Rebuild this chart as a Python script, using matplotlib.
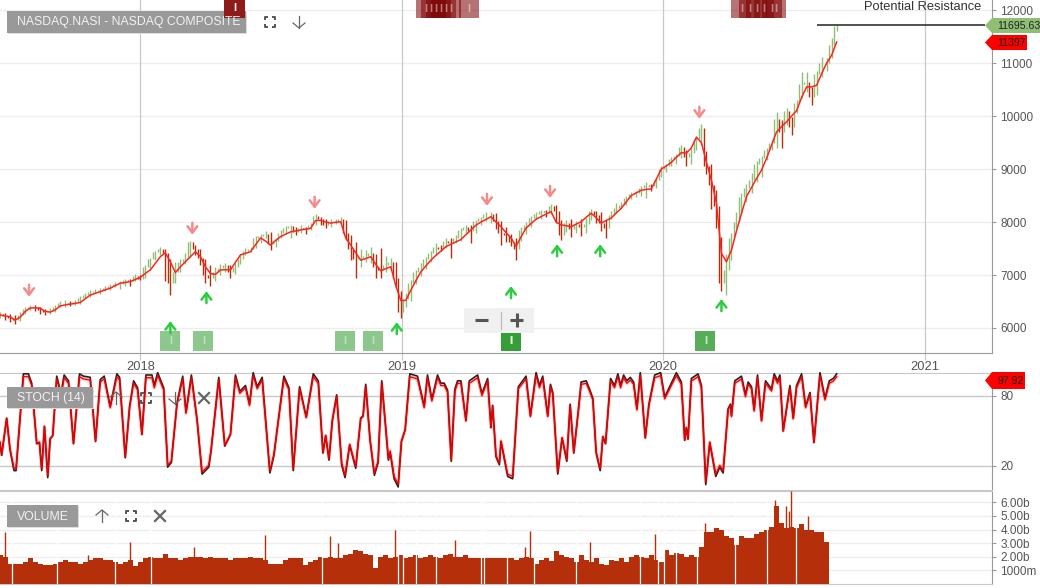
"""NASDAQ composite chart with stochastic and volume panels."""
import matplotlib
matplotlib.use("Agg")
import matplotlib.dates as mdates
import matplotlib.pyplot as plt
import numpy as np
import pandas as pd
from matplotlib.patches import Polygon, Rectangle
from matplotlib.transforms import blended_transform_factory

_W, _H = 1040, 588
_DPI = 100
_AXIS_RIGHT = 992
_UP = "#8fbe75"
_DOWN = "#b5300a"
_GRID = "#eeeeee"
_LINE = "#c8c8c8"
_TEXT = "#555555"
_BOX = "#999999"

plt.rcParams["font.family"] = ["Liberation Sans", "DejaVu Sans"]

START = pd.Timestamp("2017-06-19")
weeks = pd.date_range(START, periods=168, freq="7D")

close = [
    6270, 6220, 6190, 6150, 6240, 6350, 6400, 6390, 6340, 6300, 6320, 6400,
    6470, 6470, 6460, 6490, 6570, 6620, 6680, 6690, 6710, 6750, 6800, 6830,
    6830, 6900, 6880, 6990, 6930, 7150, 7300, 7430, 7500, 7420, 6850, 7050,
    7250, 7310, 7620, 7500, 7330, 7000, 6950, 7060, 7130, 7180, 7060, 7150,
    7300, 7450, 7500, 7700, 7730, 7780, 7580, 7650, 7800, 7880, 7920, 7810,
    7880, 7860, 7950, 8120, 8060, 7950, 8020, 8020, 8060, 7800, 7500, 7300,
    7330, 7350, 7420, 7150, 7100, 7180, 7250, 6950, 6300, 6550, 6850, 7050,
    7150, 7300, 7420, 7530, 7500, 7640, 7600, 7700, 7850, 7900, 7830, 8010,
    8080, 8150, 8150, 8020, 7800, 7750, 7620, 7500, 7850, 7950, 8080, 8150,
    8200, 8180, 8300, 8200, 7760, 7990, 7860, 7960, 7900, 7960, 8200, 8130,
    7990, 7880, 8130, 8260, 8320, 8450, 8530, 8550, 8640, 8700, 8680, 8800,
    9000, 9050, 9180, 9250, 9420, 9220, 9300, 9560, 9780, 9050, 8700, 8300,
    6850, 7100, 7700, 8000, 8480, 8650, 8800, 9100, 9200, 9350, 9500, 9950,
    9700, 10100, 9800, 10250, 10600, 10650, 10350, 10800, 11000, 11000, 11350, 11695,
]
high = [
    6300, 6280, 6260, 6250, 6300, 6400, 6440, 6430, 6400, 6360, 6370, 6440,
    6500, 6520, 6510, 6530, 6610, 6660, 6710, 6730, 6760, 6790, 6830, 6870,
    6880, 6930, 6920, 7010, 7000, 7180, 7330, 7460, 7530, 7500, 7300, 7250,
    7300, 7410, 7650, 7570, 7500, 7300, 7180, 7150, 7200, 7220, 7180, 7230,
    7400, 7510, 7530, 7730, 7780, 7830, 7810, 7700, 7840, 7920, 7950, 7900,
    7940, 7910, 7980, 8150, 8100, 8060, 8060, 8060, 8090, 8030, 7750, 7620,
    7500, 7480, 7530, 7400, 7510, 7350, 7330, 7250, 6700, 6660, 6900, 7100,
    7220, 7340, 7450, 7600, 7560, 7700, 7700, 7750, 7880, 7950, 7950, 8040,
    8100, 8180, 8190, 8170, 8020, 7900, 7780, 7700, 7900, 8000, 8110, 8180,
    8230, 8230, 8340, 8330, 8040, 8040, 8050, 8020, 8060, 8080, 8250, 8210,
    8180, 8040, 8210, 8360, 8370, 8500, 8570, 8590, 8680, 8750, 8720, 8840,
    9050, 9100, 9230, 9290, 9450, 9350, 9400, 9620, 9850, 9340, 9100, 8600,
    7720, 7400, 7790, 8190, 8545, 8720, 8930, 9150, 9250, 9390, 9540, 10070,
    9920, 10150, 9985, 10300, 10830, 10830, 10550, 10850, 11110, 11100, 11470, 11720,
]
low = [
    6180, 6150, 6120, 6080, 6130, 6260, 6340, 6330, 6270, 6240, 6270, 6310,
    6400, 6400, 6410, 6430, 6460, 6560, 6590, 6640, 6650, 6690, 6710, 6780,
    6730, 6800, 6790, 6890, 6900, 6950, 7100, 7280, 7380, 6880, 6630, 6850,
    7050, 7200, 7340, 7380, 7180, 6850, 6800, 6880, 7000, 7050, 6950, 7020,
    7200, 7370, 7430, 7510, 7600, 7700, 7480, 7520, 7700, 7780, 7700, 7750,
    7790, 7770, 7840, 7950, 7950, 7880, 7900, 7960, 7990, 7660, 7280, 6945,
    7150, 7250, 7220, 6950, 6950, 7050, 7100, 6750, 6190, 6400, 6500, 6830,
    6980, 7120, 7250, 7370, 7450, 7510, 7330, 7600, 7650, 7800, 7600, 7800,
    7950, 8020, 7990, 7860, 7570, 7620, 7540, 7280, 7640, 7780, 7900, 8050,
    8060, 8100, 8150, 7990, 7660, 7820, 7720, 7800, 7730, 7800, 8040, 7980,
    7830, 7700, 8050, 8170, 8250, 8320, 8430, 8470, 8500, 8450, 8590, 8650,
    8850, 8950, 9050, 9100, 9200, 9060, 9100, 9350, 9450, 8900, 8250, 7880,
    6700, 6620, 7280, 7880, 8150, 8380, 8545, 8750, 8850, 9170, 9360, 9400,
    9390, 9830, 9640, 10050, 10340, 10450, 10210, 10400, 10740, 10850, 11090, 11600,
]
moving_avg = [
    6245, 6230, 6213, 6150, 6200, 6310, 6375, 6380, 6375, 6315, 6300, 6340,
    6415, 6435, 6450, 6465, 6480, 6550, 6620, 6655, 6685, 6720, 6750, 6800,
    6845, 6860, 6875, 6915, 6955, 7030, 7095, 7220, 7345, 7420, 7250, 7045,
    7155, 7250, 7345, 7440, 7350, 7155, 7030, 7010, 7095, 7100, 7095, 7240,
    7380, 7410, 7440, 7570, 7700, 7640, 7565, 7650, 7725, 7770, 7815, 7830,
    7850, 7865, 7880, 8030, 8030, 8000, 7980, 7995, 8005, 7700, 7565, 7420,
    7280, 7310, 7345, 7200, 7080, 7120, 7155, 6800, 6520, 6520, 6715, 6890,
    7060, 7170, 7280, 7370, 7450, 7535, 7580, 7625, 7670, 7760, 7850, 7940,
    8000, 8050, 8100, 8000, 7910, 7800, 7700, 7540, 7720, 7885, 7970, 8055,
    8100, 8150, 8195, 8000, 7945, 7930, 7910, 7960, 8005, 8090, 8165, 8080,
    7980, 8030, 8075, 8170, 8260, 8380, 8500, 8550, 8600, 8615, 8625, 8810,
    9000, 9060, 9125, 9220, 9310, 9300, 9400, 9600, 9500, 9130, 8790, 8360,
    7410, 7250, 7470, 7830, 8160, 8480, 8650, 8820, 8980, 9200, 9450, 9700,
    9800, 9890, 10000, 10100, 10350, 10550, 10550, 10580, 10800, 11000, 11150, 11397,
]

# stochastic turning points, position in weeks from START
stoch_weeks = [
    0, .33, 1.33, 2, 2.8, 3.2, 4.67, 5.67, 6.33, 7.33, 7.87, 8.33, 8.87, 9.53, 10, 10.53,
    11.33, 11.73, 12.13, 12.8, 13.67, 14.67, 15.87, 16.67, 18, 19.07, 20, 20.8, 22, 23.33,
    23.87, 25, 25.87, 26.67, 27.47, 28.33, 29.13, 30.33, 30.8, 31.47, 32.67, 33.47, 34.2,
    35.33, 36.47, 37.13, 38.2, 39.33, 40.33, 41.67, 42.13, 43.67, 44.87, 46, 47, 47.87, 49,
    49.8, 50.53, 51.33, 52.33, 53.87, 54.67, 56.67, 57.67, 58.53,
    59.8, 61.13, 62.53, 63.53, 64.47, 65, 65.67, 66.33, 67.2, 68.2, 68.87, 69.8, 71, 72,
    72.47, 73, 73.87, 74.73, 75.47, 76.2, 77.53, 77.87, 78.67, 79.47, 80.13, 80.87, 81.8,
    83.33, 84.67, 85.33, 86.2, 87.33, 88, 88.67, 89.33, 90.07, 90.8, 91.33, 92, 93, 93.67,
    95.33, 96.2, 97.33, 98, 98.33, 99, 99.67, 100, 101.33, 102.33, 103.47, 105, 105.87, 107,
    107.67, 108.33, 109.33, 109.87, 110.33, 111.33, 112.2, 113.13,
    113.8, 114.53, 115.47, 116, 117, 117.67, 118.33, 119, 119.8, 120.33, 120.87, 121.87,
    122.67, 123.33, 123.87, 124.47, 125.13, 125.8, 126.47, 127.13, 127.8, 128.8, 129.53,
    130.67, 131.87, 132.67, 135, 136, 136.67, 137, 137.33, 138, 139.33, 140, 140.87, 141.67,
    142.87, 143.67, 144.33, 145.33, 145.8, 146, 146.67, 148, 148.8, 149.33, 150, 150.53,
    151.2, 152, 152.8, 154, 154.53, 155.2, 155.67, 156.33, 157.67, 158.33, 159, 160, 160.8,
    161.67, 162.47, 163.67, 164.67, 165.53, 166.33, 167,
]
stoch_values = [
    40, 29, 61, 34, 16, 16, 99, 99, 91, 39, 40, 16, 54, 10, 43, 46,
    97, 90, 80, 98, 93, 39, 99, 97, 96, 41, 94, 97, 71, 99,
    96, 27, 71, 93, 87, 47, 98, 98, 89, 100, 87, 19, 23,
    74, 97, 66, 98, 60, 13, 19, 33, 96, 37, 47, 98, 84, 89,
    73, 100, 88, 96, 14, 29, 97, 87, 16,
    88, 62, 99, 93, 31, 46, 25, 59, 81, 21, 10, 38, 18, 61,
    63, 90, 42, 12, 23, 93, 25, 32, 9, 2, 41, 51, 99,
    97, 71, 98, 77, 98, 91, 91, 85, 24, 86, 93, 93, 59, 93,
    98, 82, 95, 53, 72, 28, 21, 41, 11, 9, 88, 97, 63, 100,
    89, 97, 63, 90, 83, 13, 44, 24,
    73, 31, 69, 92, 93, 86, 78, 31, 16, 45, 39, 95,
    89, 99, 89, 98, 93, 96, 92, 69, 100, 44, 73,
    98, 100, 79, 100, 92, 42, 53, 43, 95, 99, 89, 4, 40,
    11, 19, 14, 69, 73, 63, 93, 97, 81, 92, 88, 68,
    98, 59, 93, 86, 99, 93, 98, 50, 89, 61, 89, 99, 71,
    83, 40, 100, 78, 93, 95, 99,
]

# billions of shares per week
volume = [
    2.1, 2.0, 1.5, 1.5, 1.5, 1.6, 1.9, 1.6, 1.5, 1.4, 1.4, 1.5,
    1.6, 1.8, 1.6, 1.6, 1.5, 1.6, 1.8, 1.9, 1.9, 1.8, 1.8, 1.6,
    1.5, 1.6, 1.8, 1.3, 1.6, 1.9, 2.0, 1.9, 1.9, 2.2, 1.9, 1.9,
    1.8, 1.9, 2.0, 2.0, 2.0, 1.9, 2.0, 1.9, 1.9, 1.9, 1.8, 1.9,
    1.9, 1.9, 2.0, 1.9, 1.9, 1.8, 1.5, 1.5, 1.5, 1.8, 1.9, 1.9,
    1.9, 1.4, 1.6, 1.8, 2.0, 1.9, 2.0, 1.9, 1.9, 2.1, 2.2, 2.5,
    2.4, 2.2, 2.1, 1.2, 2.0, 2.1, 1.9, 2.0, 2.1, 1.9, 2.0, 2.1,
    1.9, 2.0, 2.1, 2.0, 1.9, 2.1, 2.2, 2.0, 2.0, 2.1, 1.9, 1.9,
    1.9, 1.9, 1.9, 1.9, 1.9, 1.9, 1.9, 1.8, 1.9, 2.0, 1.9, 1.5,
    1.8, 1.9, 1.7, 2.4, 2.1, 2.0, 1.9, 1.6, 2.1, 1.8, 1.6, 1.9,
    1.5, 1.4, 1.8, 1.7, 1.9, 1.6, 2.0, 2.1, 2.0, 1.9, 2.1, 1.8,
    1.6, 2.5, 2.1, 2.3, 2.2, 2.0, 2.1, 2.0, 2.75, 3.85, 3.85, 4.1,
    4.0, 3.5, 3.4, 2.9, 3.5, 3.4, 3.4, 3.7, 3.85, 4.0, 4.2, 5.7,
    4.5, 4.1, 4.2, 4.1, 4.4, 4.0, 4.0, 3.85, 3.85, 3.1,
]
spike_weeks = [1, 17.6, 26, 38.8, 52.8, 65.8, 67.4, 78.8, 90.8, 104.8, 105.8, 117.8, 130.8,
               140.8, 154.6, 156.8, 157.4, 161.2, 157.8]
spike_values = [3.85, 2.1, 3.1, 2.75, 3.6, 3.5, 3.0, 4.0, 3.2, 2.7, 3.9, 3.1, 3.7,
                4.5, 6.2, 5.7, 5.4, 5.0, 6.86]
gap_weeks = [2.4, 11.4, 23, 30.2, 64.2, 79.4, 80.4, 83, 87, 96, 96.6, 101.2, 106.6,
             115, 127.8, 131.4, 132.6, 135, 139.2, 146.8, 153, 158.8]

sell_weeks = [5.8, 38.4, 62.8, 97.2, 109.8, 139.6]
sell_prices = [6590, 7760, 8250, 8305, 8455, 9950]
buy_weeks = [34, 41.2, 79.2, 102, 111.2, 119.8, 144]
buy_prices = [6130, 6695, 6110, 6790, 7580, 7580, 6545]
green_flags = [34, 40.6, 68.8, 74.4, 102, 102, 102, 102, 140.8, 140.8]
red_flags = [46.8, 46.8, 85, 86, 87, 88, 89, 90, 93.6, 148, 149.6, 151, 152.4, 154, 154.8]

resistance = 11710
year_ticks = ["2018-01-01", "2019-01-01", "2020-01-01", "2021-01-01"]
year_labels = ["2018", "2019", "2020", "2021"]
price_ticks = [6000, 7000, 8000, 9000, 10000, 11000, 12000]
stoch_ticks = [20, 80]
volume_ticks = [1, 2, 3, 4, 5, 6]
volume_labels = ["1000m", "2.00b", "3.00b", "4.00b", "5.00b", "6.00b"]


def _week(w):
    return START + pd.Timedelta(days=7 * w)


def _panel(fig, top, bottom):
    ax = fig.add_axes([0, 1 - bottom / _H, _AXIS_RIGHT / _W, (bottom - top) / _H])
    ax.set_xlim(START, START + pd.Timedelta(days=_AXIS_RIGHT / 5.01 * 7))
    for side in ("left", "top"):
        ax.spines[side].set_visible(False)
    ax.spines["right"].set_color("#999999")
    ax.spines["bottom"].set_color(_LINE)
    ax.yaxis.tick_right()
    ax.tick_params(axis="y", length=3, colors=_TEXT, labelsize=8.5, color="#999999", pad=3)
    ax.tick_params(axis="x", bottom=False, labelbottom=False)
    ax.set_axisbelow(True)
    return ax


def _flags(ax, flag_weeks, color, bottom, height):
    trans = blended_transform_factory(ax.transData, ax.transAxes)
    for w in flag_weeks:
        x = mdates.date2num(_week(w))
        ax.add_patch(Rectangle((x - 14, bottom), 28, height, transform=trans,
                               color=color, alpha=0.55, lw=0, zorder=5))
        ax.text(x, bottom + height / 2, "I", transform=trans, color="#ffffff", ha="center",
                va="center", fontsize=8, fontweight="bold", alpha=0.45, zorder=6)


def _signal_arrows(ax, arrow_weeks, prices, color, offset):
    for w, p in zip(arrow_weeks, prices):
        ax.annotate("", xy=(_week(w), p), xytext=(0, offset), textcoords="offset pixels",
                    arrowprops=dict(arrowstyle="->,head_width=0.32,head_length=0.42", color=color,
                                    lw=1.8, mutation_scale=11, shrinkA=0, shrinkB=0), zorder=6)


def _corners(ov, cx, cy, r=5):
    for sx in (-1, 1):
        for sy in (-1, 1):
            ov.plot([cx + sx * r, cx + sx * r, cx + sx * (r - 3)],
                    [cy + sy * (r - 3), cy + sy * r, cy + sy * r],
                    color="#555555", lw=1.4, solid_capstyle="butt")


def _icon_arrow(ov, cx, cy, up):
    sign = -1 if up else 1
    ov.plot([cx, cx], [cy - 6, cy + 6], color="#666666", lw=0.9)
    ov.plot([cx - 6, cx, cx + 6], [cy + sign * 1, cy + sign * 6, cy + sign * 1],
            color="#666666", lw=0.9)


def _icon_cross(ov, cx, cy):
    for s in (-1, 1):
        ov.plot([cx - 5, cx + 5], [cy - s * 5, cy + s * 5], color="#666666", lw=1.6)


def _label_box(ov, x0, y0, x1, y1, text):
    ov.add_patch(Rectangle((x0 + 1, y0 + 1), x1 - x0, y1 - y0, color="#dddddd", lw=0, zorder=1))
    ov.add_patch(Rectangle((x0, y0), x1 - x0, y1 - y0, color=_BOX, lw=0, zorder=2))
    ov.text(x0 + 10, (y0 + y1) / 2 + 0.5, text, color="#f2f2f2", fontsize=8.8,
            ha="left", va="center", zorder=5)


def _tag(ov, x1, y0, y1, color, text):
    mid = (y0 + y1) / 2
    ov.add_patch(Polygon([(985, mid), (992, y0), (x1, y0), (x1, y1), (992, y1)],
                         closed=True, color=color, lw=0, zorder=4))
    ov.text(997, mid + 0.5, text, fontsize=7.6, color="#222222", ha="left", va="center", zorder=5)


def main():
    assert len(close) == len(high) == len(low) == len(moving_avg) == len(weeks)
    assert len(stoch_weeks) == len(stoch_values)
    assert len(spike_weeks) == len(spike_values)

    fig = plt.figure(figsize=(_W / _DPI, _H / _DPI), dpi=_DPI, facecolor="white")

    # price panel
    ax = _panel(fig, 0, 353)
    ax.set_ylim(5528, 12190)
    ax.grid(axis="y", color=_GRID, lw=1)
    for tick in year_ticks:
        ax.axvline(pd.Timestamp(tick), color=_LINE, lw=0.9, zorder=1)
    ax.set_yticks(price_ticks, [str(t) for t in price_ticks])
    closes = np.array(close)
    prev = np.r_[closes[0], closes[:-1]]
    colors = [_UP if c >= p else _DOWN for c, p in zip(closes, prev)]
    ax.vlines(weeks, low, high, colors=colors, lw=1.0, zorder=3)
    # the move from one close to the next sits between the weekly bars
    between = weeks[1:] - pd.Timedelta(days=3.5)
    ax.vlines(between, np.minimum(closes[1:], prev[1:]), np.maximum(closes[1:], prev[1:]),
              colors=colors[1:], lw=1.0, zorder=3)
    ax.plot(weeks, moving_avg, color="#ff2424", lw=1.1, zorder=4)
    ax.hlines(resistance, _week(163), _week(196.6), color="#222222", lw=1.1, zorder=4)
    _signal_arrows(ax, sell_weeks, sell_prices, "#f58a8a", 12)
    _signal_arrows(ax, buy_weeks, buy_prices, "#2ecc40", -12)
    _flags(ax, green_flags, "#2e9a2e", 2 / 353, 20 / 353)
    _flags(ax, red_flags, "#7d0000", 335 / 353, 18 / 353)
    ax.spines["bottom"].set_color("#999999")
    ax.set_xticks([pd.Timestamp(t) for t in year_ticks], year_labels)
    ax.tick_params(axis="x", bottom=True, labelbottom=True, length=5, color=_LINE,
                   labelcolor=_TEXT, labelsize=9.3, pad=1)

    # stochastic panel
    ax2 = _panel(fig, 373, 490)
    ax2.set_ylim(-0.6, 99.7)
    ax2.spines["top"].set_visible(True)
    ax2.spines["top"].set_color(_LINE)
    ax2.grid(axis="y", color=_LINE, lw=1)
    ax2.set_yticks(stoch_ticks, [str(t) for t in stoch_ticks])
    stoch_x = [_week(w) for w in stoch_weeks]
    signal = 50 + (np.array(stoch_values) - 50) * 0.95
    ax2.plot(stoch_x, stoch_values, color="#222222", lw=1.2, clip_on=False, zorder=3,
             solid_joinstyle="round")
    ax2.plot(stoch_x, signal, color="#ff0000", lw=2.4, alpha=0.25, zorder=4, solid_joinstyle="round")
    ax2.plot(stoch_x, signal, color="#ee0000", lw=0.9, zorder=5, solid_joinstyle="round")

    # volume panel
    ax3 = _panel(fig, 490.7, 584)
    ax3.set_ylim(0, 6.86)
    ax3.spines["top"].set_visible(True)
    ax3.spines["top"].set_color(_LINE)
    ax3.grid(axis="y", color=_GRID, lw=1)
    ax3.set_yticks(volume_ticks, volume_labels)
    ax3.bar(weeks[:len(volume)], volume, width=7, color=_DOWN, lw=0, zorder=3)
    ax3.vlines([_week(w) for w in spike_weeks], 0, spike_values, color=_DOWN, lw=1.0, zorder=3)
    ax3.vlines([_week(w) for w in gap_weeks], 0, 6.5, color="white", lw=0.9, zorder=4)

    # chrome on top, in image pixels
    ov = fig.add_axes([0, 0, 1, 1], zorder=10)
    ov.set_xlim(0, _W)
    ov.set_ylim(_H, 0)
    ov.axis("off")
    _label_box(ov, 7, 11, 246, 33, "NASDAQ.NASI - NASDAQ COMPOSITE")
    ov.add_patch(Rectangle((224, 0), 21, 18, color="#8f1a1a", lw=0, zorder=3))
    ov.text(235, 8, "I", color="#ffffff", fontsize=8, fontweight="bold", ha="center",
            va="center", zorder=4)
    _corners(ov, 270, 22)
    _icon_arrow(ov, 299, 22, up=False)
    _label_box(ov, 7, 387, 93, 408, "STOCH (14)")
    _icon_arrow(ov, 116, 398, up=True)
    _corners(ov, 146, 398)
    _icon_arrow(ov, 175, 398, up=False)
    _icon_cross(ov, 204, 398)
    _label_box(ov, 7, 505, 78, 527, "VOLUME")
    _icon_arrow(ov, 102, 516, up=True)
    _corners(ov, 131, 516)
    _icon_cross(ov, 160, 516)
    ov.add_patch(Rectangle((464, 308), 70, 25, color="#f0f0f0", lw=0, zorder=3))
    ov.plot([501, 501], [312, 329], color="#bbbbbb", lw=0.9, zorder=4)
    ov.plot([475, 488], [320, 320], color="#555555", lw=2.2, zorder=4, solid_capstyle="butt")
    ov.plot([510, 523], [320, 320], color="#555555", lw=2.2, zorder=4, solid_capstyle="butt")
    ov.plot([516.5, 516.5], [313, 327], color="#555555", lw=2.2, zorder=4, solid_capstyle="butt")
    ov.text(864, 7, "Potential Resistance", fontsize=9.3, color="#333333", ha="left", va="center")
    _tag(ov, 1040, 18, 33, "#8fbe75", "11695.634")
    _tag(ov, 1027, 35, 50, "#ff0000", "11397")
    _tag(ov, 1025, 372, 389, "#ff0000", "97.92")

    fig.savefig("out.png", dpi=_DPI)
    plt.close(fig)


if __name__ == "__main__":
    main()
